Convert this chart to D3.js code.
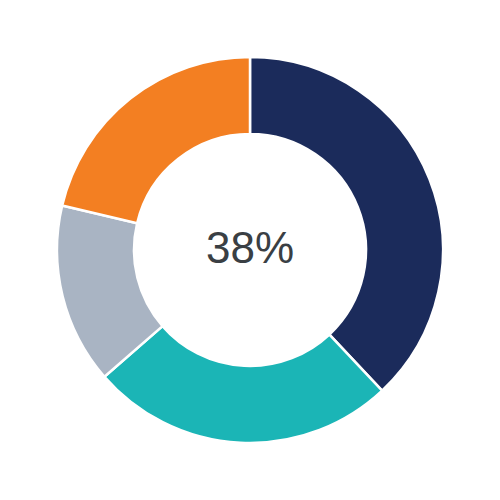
<!DOCTYPE html>
<html>
<head>
<meta charset="utf-8">
<script src="https://cdn.jsdelivr.net/npm/d3@7"></script>
<style>
  body { margin: 0; background: #fff; }
</style>
</head>
<body>
<div id="chart"></div>
<script>
var svgWidth = 500;
var svgHeight = 500;

// Data (shares in %)
var categories = ["A", "B", "C", "D"];
var values = [38, 25.6, 15.1, 21.3];
var colors = ["#1b2b5b", "#1bb5b6", "#a9b4c3", "#f37f22"];
var centerLabel = "38%";

var outerRadius = 193;
var innerRadius = 116;

var svg = d3.select("#chart")
  .append("svg")
  .attr("width", svgWidth)
  .attr("height", svgHeight);

var chartGroup = svg.append("g")
  .attr("transform", `translate(${svgWidth / 2},${svgHeight / 2})`);

var data = categories.map(function(c, i) {
  return { name: c, value: values[i], color: colors[i] };
});

var pie = d3.pie()
  .sort(null)
  .value(d => d.value);

var arc = d3.arc()
  .innerRadius(innerRadius)
  .outerRadius(outerRadius);

chartGroup.selectAll("path")
  .data(pie(data))
  .enter()
  .append("path")
  .attr("d", arc)
  .attr("fill", d => d.data.color)
  .attr("stroke", "#fff")
  .attr("stroke-width", 2.5);

chartGroup.append("text")
  .attr("y", -2)
  .attr("dy", "0.35em")
  .attr("text-anchor", "middle")
  .attr("font-family", "Liberation Sans, Arial, sans-serif")
  .attr("font-size", "44px")
  .attr("fill", "#3a3f44")
  .text(centerLabel);
</script>
</body>
</html>
